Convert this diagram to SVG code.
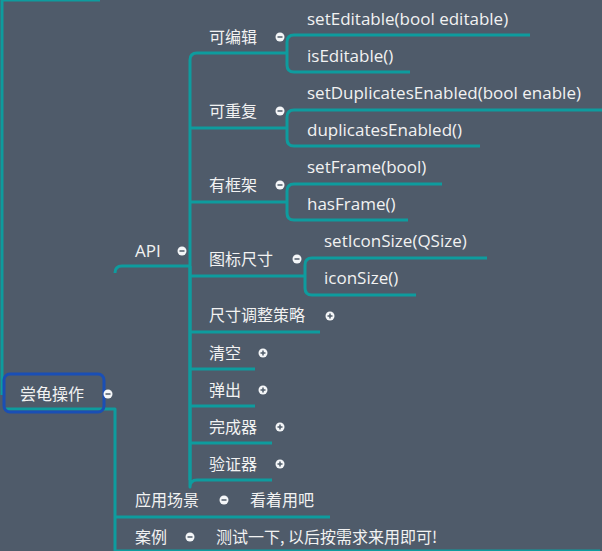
<svg xmlns="http://www.w3.org/2000/svg" width="602" height="551" viewBox="0 0 602 551">
<style>
.l{fill:none;stroke:#0e9c9e;stroke-width:3;stroke-linejoin:round}
text{font-family:"Noto Sans CJK SC","Noto Sans",sans-serif;font-size:16px;fill:#f2f2f2}
.e{font-family:"Open Sans","Noto Sans",sans-serif;font-size:17px}
.d{fill:#f4f6f8}
.m{stroke:#4f5b6a;stroke-width:1.5}
</style>
<defs>
<g id="mi"><circle r="4.5" class="d"/><line x1="-2.5" x2="2.5" class="m"/></g>
<g id="pl"><circle r="4.5" class="d"/><line x1="-2.5" x2="2.5" class="m"/><line y1="-2.5" y2="2.5" class="m"/></g>
</defs>
<rect width="602" height="551" fill="#4f5b6a"/>
<g id="connectors">
<path class="l" d="M100 0H2V395"/>
<path class="l" d="M5 409H115V551M190 266H122Q115 266 115 273M115 517H330M115 551H600"/>
<path class="l" d="M190 266V487Q190 480 197 480H272M197 53H287M190 60Q190 53 197 53M190 128H287M190 202H287M190 276H305M190 332H320M190 369H255M190 406H255M190 443H272"/>
<path class="l" d="M190 60V480"/>
<path class="l" d="M530 35H294Q287 35 287 42V65Q287 72 294 72H410"/>
<path class="l" d="M602 110H294Q287 110 287 117V139Q287 146 294 146H480"/>
<path class="l" d="M442 184H294Q287 184 287 191V213Q287 220 294 220H408"/>
<path class="l" d="M487 258H312Q305 258 305 265V288Q305 295 312 295H416"/>
</g>
<g id="root"><rect x="4" y="374" width="100" height="38" rx="6" fill="none" stroke="#1a4fb5" stroke-width="3"/><text x="20" y="400">尝龟操作</text><use href="#mi" x="108" y="394"/></g>
<g id="api"><text class="e" x="135" y="257">API</text><use href="#mi" x="182" y="251"/></g>
<g id="n1"><text x="209" y="43">可编辑</text><use href="#mi" x="280" y="37"/><text class="e" x="307" y="25">setEditable(bool editable)</text><text class="e" x="307" y="62">isEditable()</text></g>
<g id="n2"><text x="209" y="117">可重复</text><use href="#mi" x="280" y="111"/><text class="e" x="307" y="99">setDuplicatesEnabled(bool enable)</text><text class="e" x="307" y="136">duplicatesEnabled()</text></g>
<g id="n3"><text x="209" y="191">有框架</text><use href="#mi" x="280" y="185"/><text class="e" x="307" y="173">setFrame(bool)</text><text class="e" x="307" y="210">hasFrame()</text></g>
<g id="n4"><text x="209" y="265">图标尺寸</text><use href="#mi" x="297" y="259"/><text class="e" x="324" y="247">setIconSize(QSize)</text><text class="e" x="324" y="284">iconSize()</text></g>
<g id="n5"><text x="209" y="321">尺寸调整策略</text><use href="#pl" x="330" y="316"/></g>
<g id="n6"><text x="209" y="359">清空</text><use href="#pl" x="263" y="353"/></g>
<g id="n7"><text x="209" y="396">弹出</text><use href="#pl" x="263" y="390"/></g>
<g id="n8"><text x="209" y="433">完成器</text><use href="#pl" x="280" y="427"/></g>
<g id="n9"><text x="209" y="470">验证器</text><use href="#pl" x="280" y="464"/></g>
<g id="n10"><text x="135" y="506">应用场景</text><use href="#mi" x="224" y="500"/><text x="250" y="506">看着用吧</text></g>
<g id="n11"><text x="135" y="543">案例</text><use href="#mi" x="190" y="537"/><text x="216" y="543">测试一下, 以后按需求来用即可!</text></g>
</svg>
